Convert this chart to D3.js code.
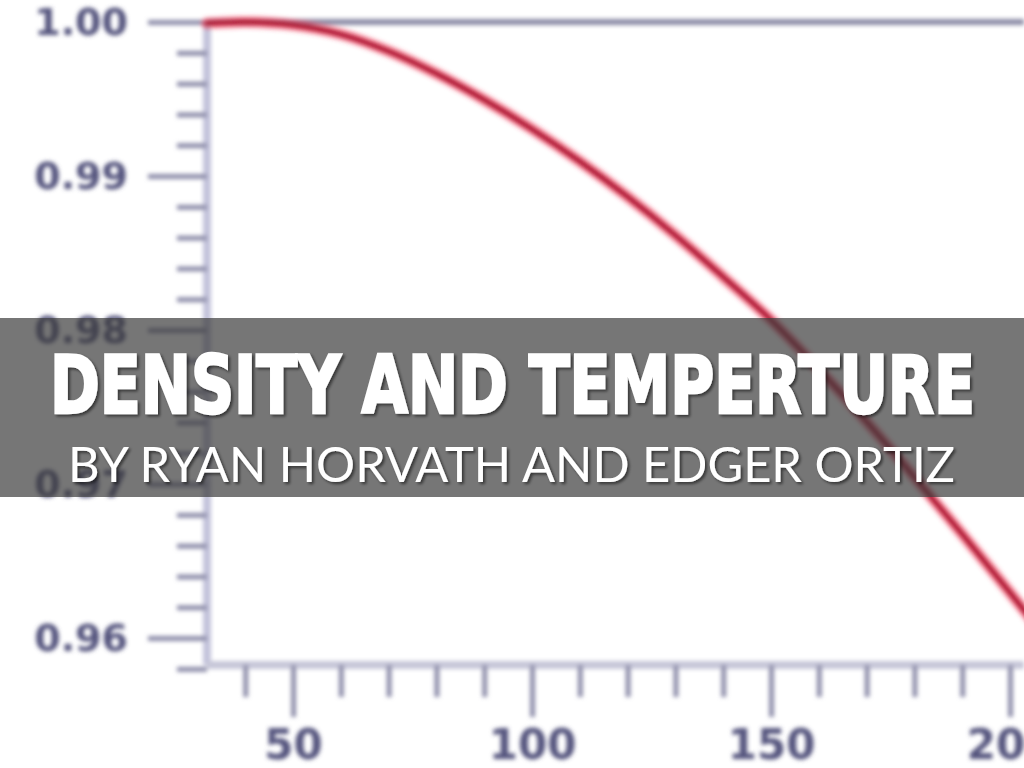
<!DOCTYPE html>
<html>
<head>
<meta charset="utf-8">
<script src="https://cdn.jsdelivr.net/npm/d3@7"></script>
<style>
  html, body { margin: 0; padding: 0; background: #ffffff; overflow: hidden; }
  svg { display: block; }
</style>
</head>
<body>
<svg id="chart" width="1024" height="768"></svg>
<script>
// ---- data ----
const temperatureF = [32, 40, 50, 60, 70, 80, 90, 100, 110, 120, 130, 140, 150, 160, 170, 180, 190, 200, 210];
const densityValues = [0.9999, 1.0000, 0.9998, 0.9992, 0.9981, 0.99665, 0.99495, 0.99305, 0.99095, 0.98865, 0.98615, 0.98345, 0.98065, 0.97745, 0.97405, 0.97045, 0.96675, 0.96295, 0.95905];
const xMajorTicks = [50, 100, 150, 200];
const xMinorTicks = [40, 60, 70, 80, 90, 110, 120, 130, 140, 160, 170, 180, 190, 210];
const yMajorTicks = [0.96, 0.97, 0.98, 0.99, 1.00];
const yMinorTicks = [0.958, 0.962, 0.964, 0.966, 0.968, 0.972, 0.974, 0.976, 0.978, 0.982, 0.984, 0.986, 0.988, 0.992, 0.994, 0.996, 0.998];
const titleText = "DENSITY AND TEMPERTURE";
const subtitleText = "BY RYAN HORVATH AND EDGER ORTIZ";

// ---- layout ----
const W = 1024, H = 768;
const plot = { left: 207, right: 1010, top: 22, bottom: 665 };

const svg = d3.select("#chart");
const defs = svg.append("defs");
defs.append("filter").attr("id", "soft")
  .attr("x", "-5%").attr("y", "-5%").attr("width", "110%").attr("height", "110%")
  .append("feGaussianBlur").attr("stdDeviation", 2);
const sh = defs.append("filter").attr("id", "shadow")
  .attr("x", "-5%").attr("y", "-20%").attr("width", "110%").attr("height", "150%");
sh.append("feDropShadow").attr("dx", 2).attr("dy", 2).attr("stdDeviation", 1.5)
  .attr("flood-color", "#000").attr("flood-opacity", 0.55);

const x = d3.scaleLinear().domain([32, 200]).range([plot.left, plot.right]);
const y = d3.scaleLinear().domain([0.95825, 1.0]).range([plot.bottom, plot.top]);

const g = svg.append("g").attr("filter", "url(#soft)");

// frame lines
g.append("line")
  .attr("x1", x(32)).attr("x2", W).attr("y1", y(1.0)).attr("y2", y(1.0))
  .attr("stroke", "#8c8ca6").attr("stroke-width", 6);
g.append("line")
  .attr("x1", x(32)).attr("x2", x(32)).attr("y1", y(1.0)).attr("y2", plot.bottom)
  .attr("stroke", "#c2c2da").attr("stroke-width", 8);
g.append("line")
  .attr("x1", x(32)).attr("x2", W).attr("y1", plot.bottom).attr("y2", plot.bottom)
  .attr("stroke", "#c6c6d8").attr("stroke-width", 8);

// y axis ticks
const yMinorAxis = d3.axisLeft(y).tickValues(yMinorTicks).tickSize(30).tickFormat("");
const yMajorAxis = d3.axisLeft(y).tickValues(yMajorTicks).tickSize(59).tickPadding(20).tickFormat(d3.format(".2f"));
const gyMin = g.append("g").attr("transform", `translate(${x(32)},0)`).call(yMinorAxis);
const gyMaj = g.append("g").attr("transform", `translate(${x(32)},0)`).call(yMajorAxis);
[gyMin, gyMaj].forEach(a => {
  a.select(".domain").remove();
  a.selectAll(".tick line").attr("stroke", "#8e8eaa").attr("stroke-width", 5);
});
gyMaj.selectAll(".tick text")
  .attr("fill", "#55557e").attr("font-family", "DejaVu Sans").attr("font-weight", "bold")
  .attr("font-size", 38);

// x axis ticks
const xMinorAxis = d3.axisBottom(x).tickValues(xMinorTicks).tickSize(32).tickFormat("");
const xMajorAxis = d3.axisBottom(x).tickValues(xMajorTicks).tickSize(52).tickPadding(12).tickFormat(d3.format("d"));
const gxMin = g.append("g").attr("transform", `translate(0,${plot.bottom})`).call(xMinorAxis);
const gxMaj = g.append("g").attr("transform", `translate(0,${plot.bottom})`).call(xMajorAxis);
[gxMin, gxMaj].forEach(a => {
  a.select(".domain").remove();
  a.selectAll(".tick line").attr("stroke", "#8e8eaa").attr("stroke-width", 5);
});
gxMaj.selectAll(".tick text")
  .attr("fill", "#55557e").attr("font-family", "DejaVu Sans").attr("font-weight", "bold")
  .attr("font-size", 42);

// curve
const pts = temperatureF.map((t, i) => [t, densityValues[i]]);
const line = d3.line().x(d => x(d[0])).y(d => y(d[1])).curve(d3.curveCatmullRom.alpha(0.5));
g.append("path").datum(pts).attr("d", line)
  .attr("fill", "none").attr("stroke", "#f43a5a").attr("stroke-opacity", 0.55)
  .attr("stroke-width", 12).attr("stroke-linecap", "round");
g.append("path").datum(pts).attr("d", line)
  .attr("fill", "none").attr("stroke", "#a8102c")
  .attr("stroke-width", 5).attr("stroke-linecap", "round");

// ---- banner overlay ----
svg.append("rect")
  .attr("x", 0).attr("y", 318).attr("width", W).attr("height", 179)
  .attr("fill", "#3c3c3c").attr("fill-opacity", 0.7);

svg.append("text")
  .attr("x", 50).attr("y", 413)
  .attr("textLength", 925).attr("lengthAdjust", "spacingAndGlyphs")
  .attr("font-family", "'DejaVu Sans Condensed', 'DejaVu Sans'")
  .style("font-stretch", "condensed")
  .attr("font-weight", "bold").attr("font-size", 80)
  .attr("fill", "#ffffff").attr("stroke", "#ffffff").attr("stroke-width", 2.5)
  .attr("stroke-linejoin", "miter")
  .attr("filter", "url(#shadow)")
  .text(titleText);

svg.append("text")
  .attr("x", 68).attr("y", 482)
  .attr("textLength", 887).attr("lengthAdjust", "spacingAndGlyphs")
  .attr("font-family", "Lato, 'Open Sans', sans-serif")
  .attr("font-size", 48)
  .attr("fill", "#ffffff").attr("filter", "url(#shadow)")
  .text(subtitleText);
</script>
</body>
</html>
